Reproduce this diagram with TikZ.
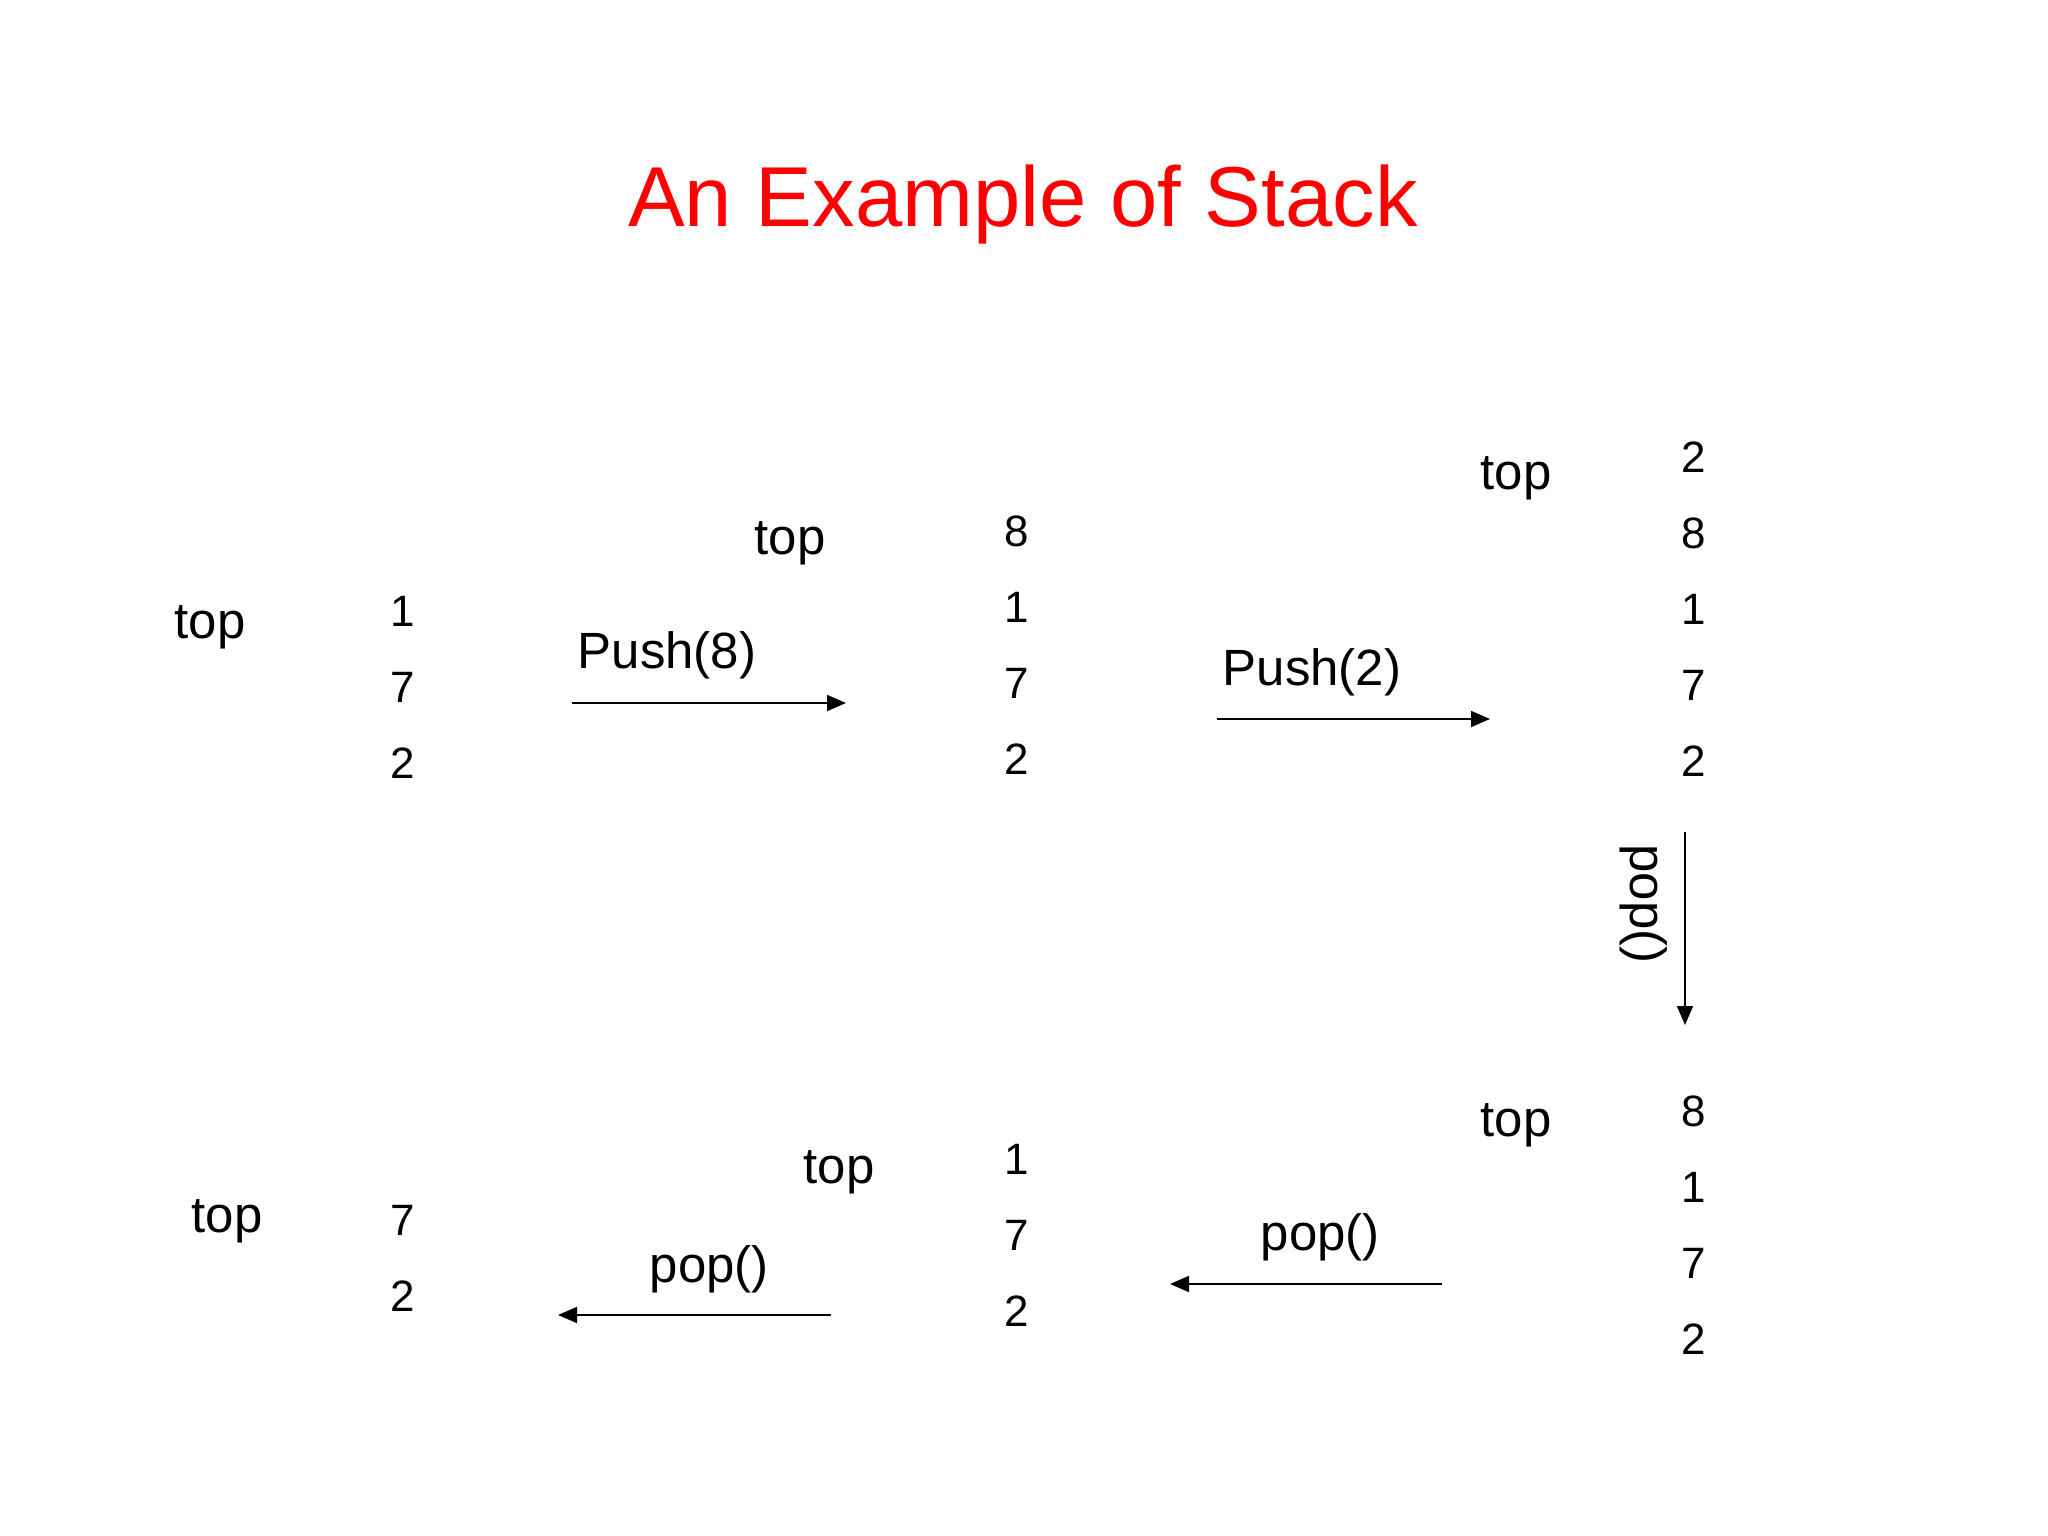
\documentclass[tikz,border=0pt]{standalone}
\usepackage{fontspec}
\setmainfont{Liberation Sans}
\usetikzlibrary{arrows.meta,positioning}
\tikzstyle{ttl}=[font=\fontsize{24.2}{29}\selectfont,text=red,anchor=base]
\tikzstyle{lbl}=[font=\fontsize{14.5}{17}\selectfont,anchor=base,inner sep=0pt]
\tikzstyle{num}=[font=\fontsize{12.5}{15}\selectfont,inner sep=0pt]
\tikzstyle{op}=[-{Triangle[length=1.9mm,width=1.6mm]},line width=0.5pt]

\begin{document}
\begin{tikzpicture}[on grid,node distance=0.76cm]
    \useasboundingbox (0,0) rectangle (20.48,-15.36);
    \node (title) [ttl] at (10.23,-2.27) {An Example of Stack};

    % stack 1
    \node (s1top) [lbl] at (2.10,-6.39) {top};
    \node (s1a) [num] at (4.03,-6.11) {1};
    \node (s1b) [num,below=of s1a] {7};
    \node (s1c) [num,below=of s1b] {2};

    % stack 2
    \node (s2top) [lbl] at (7.90,-5.55) {top};
    \node (s2a) [num] at (10.17,-5.31) {8};
    \node (s2b) [num,below=of s2a] {1};
    \node (s2c) [num,below=of s2b] {7};
    \node (s2d) [num,below=of s2c] {2};

    % stack 3
    \node (s3top) [lbl] at (15.16,-4.90) {top};
    \node (s3a) [num] at (16.94,-4.57) {2};
    \node (s3b) [num,below=of s3a] {8};
    \node (s3c) [num,below=of s3b] {1};
    \node (s3d) [num,below=of s3c] {7};
    \node (s3e) [num,below=of s3d] {2};

    % stack 4
    \node (s4top) [lbl] at (15.16,-11.36) {top};
    \node (s4a) [num] at (16.94,-11.11) {8};
    \node (s4b) [num,below=of s4a] {1};
    \node (s4c) [num,below=of s4b] {7};
    \node (s4d) [num,below=of s4c] {2};

    % stack 5
    \node (s5top) [lbl] at (8.39,-11.83) {top};
    \node (s5a) [num] at (10.17,-11.59) {1};
    \node (s5b) [num,below=of s5a] {7};
    \node (s5c) [num,below=of s5b] {2};

    % stack 6
    \node (s6top) [lbl] at (2.27,-12.32) {top};
    \node (s6a) [num] at (4.03,-12.20) {7};
    \node (s6b) [num,below=of s6a] {2};

    % operations
    \coordinate (p8s) at (5.72,-7.03);
    \coordinate (p8e) at (8.46,-7.03);
    \draw[op] (p8s) -- (p8e);
    \node (p8) [lbl,anchor=base west] at (5.77,-6.69) {Push(8)};

    \coordinate (p2s) at (12.17,-7.19);
    \coordinate (p2e) at (14.90,-7.19);
    \draw[op] (p2s) -- (p2e);
    \node (p2) [lbl,anchor=base west] at (12.22,-6.86) {Push(2)};

    \coordinate (o1s) at (16.85,-8.32);
    \coordinate (o1e) at (16.85,-10.25);
    \draw[op] (o1s) -- (o1e);
    \node (o1) [lbl,anchor=center,rotate=-90] at (16.44,-9.04) {pop()};

    \coordinate (o2s) at (14.42,-12.84);
    \coordinate (o2e) at (11.70,-12.84);
    \draw[op] (o2s) -- (o2e);
    \node (o2) [lbl,anchor=base west] at (12.60,-12.50) {pop()};

    \coordinate (o3s) at (8.31,-13.15);
    \coordinate (o3e) at (5.58,-13.15);
    \draw[op] (o3s) -- (o3e);
    \node (o3) [lbl,anchor=base west] at (6.49,-12.82) {pop()};
\end{tikzpicture}
\end{document}
